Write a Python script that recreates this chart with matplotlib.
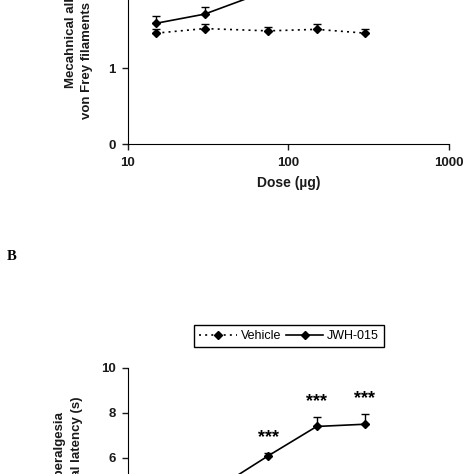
import matplotlib
matplotlib.use("Agg")
import matplotlib.pyplot as plt
from matplotlib.lines import Line2D

plt.rcParams['font.family'] = ['Liberation Sans', 'DejaVu Sans']

# doses shared by both panels
dose = [15, 30, 75, 150, 300]

# panel A: mechanical allodynia (von Frey)
veh_a = [1.46, 1.52, 1.49, 1.51, 1.46]
veh_a_err = [0.05, 0.06, 0.045, 0.07, 0.05]
jwh_a = [1.59, 1.71, 2.02, 2.40, 2.55]
jwh_a_err = [0.10, 0.10, 0.10, 0.10, 0.10]

# panel B: thermal hyperalgesia
veh_b = [4.0, 4.2, 4.1, 4.2, 4.0]
veh_b_err = [0.2, 0.2, 0.2, 0.2, 0.2]
jwh_b = [3.9, 4.3, 6.1, 7.4, 7.5]
jwh_b_err = [0.2, 0.3, 0.1, 0.43, 0.47]
stars_b = ['', '', '***', '***', '***']

ink = '#1a1a1a'
dots = (0, (1.2, 2.5))

fig = plt.figure(figsize=(4.74, 4.74), dpi=100)
axA = fig.add_axes([0.270, 0.696, 0.677, 0.481])
axB = fig.add_axes([0.270, -0.251, 0.677, 0.4747])


def draw(ax, veh, veh_err, jwh, jwh_err):
    ax.errorbar(dose, veh, yerr=[[0] * len(veh), veh_err], fmt='D', ls=dots,
                color='black', ms=4.5, lw=1.2, capsize=3, elinewidth=1)
    ax.errorbar(dose, jwh, yerr=[[0] * len(jwh), jwh_err], fmt='D', ls='-',
                color='black', ms=4.5, lw=1.2, capsize=3, elinewidth=1)
    ax.set_xscale('log')
    ax.set_xlim(10, 1000)
    ax.spines['top'].set_visible(False)
    ax.spines['right'].set_visible(False)
    ax.xaxis.set_minor_locator(matplotlib.ticker.NullLocator())
    ax.xaxis.set_major_formatter(matplotlib.ticker.FuncFormatter(lambda v, p: f'{v:g}'))
    ax.tick_params(direction='out', length=4, width=1, colors=ink, labelsize=9.5, pad=5)
    for lab in ax.get_xticklabels() + ax.get_yticklabels():
        lab.set_fontweight('bold')


draw(axA, veh_a, veh_a_err, jwh_a, jwh_a_err)
axA.set_ylim(0, 3)
axA.set_yticks([0, 1, 2, 3])
axA.set_xlabel('Dose (µg)', fontsize=10, fontweight='bold', color=ink, labelpad=5)
axA.set_ylabel('Mecahnical allodynia\nvon Frey filaments strength (g)', fontsize=9.5,
               fontweight='bold', color=ink, linespacing=1.5)
axA.yaxis.set_label_coords(-0.108, 0.535)

draw(axB, veh_b, veh_b_err, jwh_b, jwh_b_err)
axB.set_ylim(0, 10)
axB.set_yticks([0, 2, 4, 6, 8, 10])
axB.set_ylabel('Thermal hyperalgesia\nPaw withdrawal latency (s)', fontsize=9.5,
               fontweight='bold', color=ink, labelpad=13, linespacing=1.5)
for x, y, e, s in zip(dose, jwh_b, jwh_b_err, stars_b):
    if s:
        axB.annotate(s, (x, y + e), xytext=(0, 5), textcoords='offset points',
                     ha='center', va='bottom', fontsize=13, fontweight='bold')

fig.text(0.015, 0.451, 'B', family='Liberation Serif', fontweight='bold', fontsize=10.5)

handles = [Line2D([], [], color='black', ls=dots, marker='D', ms=4.5, lw=1.2),
           Line2D([], [], color='black', ls='-', marker='D', ms=4.5, lw=1.2)]
fig.legend(handles, ['Vehicle', 'JWH-015'], loc='center', bbox_to_anchor=(0.610, 0.291),
           ncol=2, fontsize=9, frameon=True, fancybox=False, edgecolor='black',
           handlelength=3.0, columnspacing=0.4, handletextpad=0.3, borderpad=0.4,
           framealpha=1)

fig.savefig('out.png', dpi=100)
